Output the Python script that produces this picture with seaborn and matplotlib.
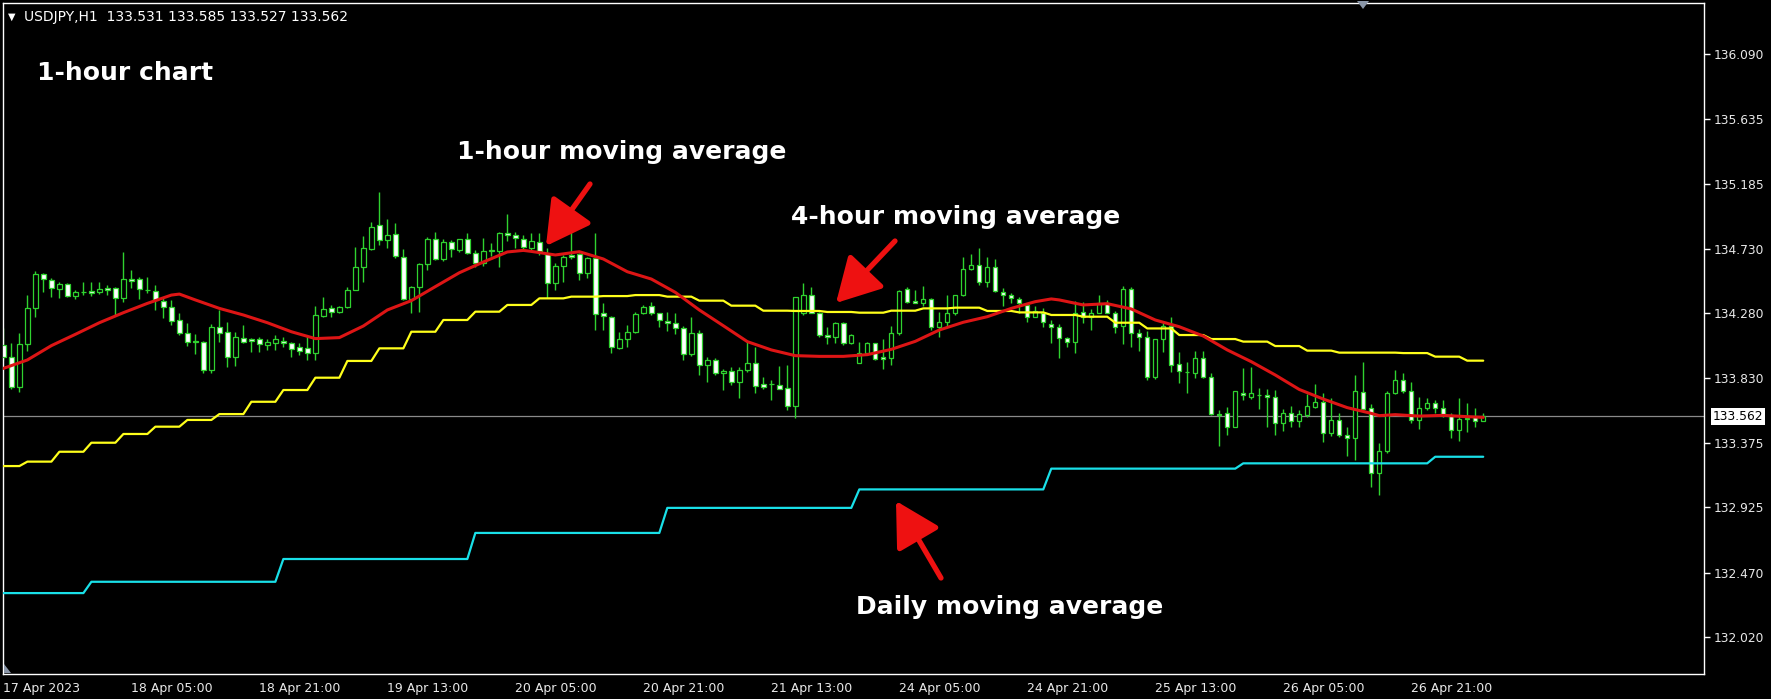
import numpy as np
import pandas as pd
import seaborn as sns
import matplotlib.pyplot as plt
from matplotlib.patches import Polygon

W, H = 1771, 699

# USDJPY H1 candles, first bar 17 Apr 13:00
opens = [134.059, 133.973, 133.768, 134.064, 134.315, 134.553, 134.513, 134.453, 134.483, 134.404,
         134.429, 134.436, 134.427, 134.455, 134.455, 134.385, 134.517, 134.520, 134.446, 134.439,
         134.369, 134.327, 134.234, 134.145, 134.085, 134.083, 133.885, 134.185, 134.148, 133.978,
         134.111, 134.099, 134.099, 134.059, 134.075, 134.087, 134.071, 134.048, 134.036, 134.006,
         134.262, 134.315, 134.292, 134.322, 134.443, 134.606, 134.730, 134.897, 134.792, 134.832,
         134.676, 134.378, 134.467, 134.625, 134.797, 134.657, 134.781, 134.723, 134.797, 134.699,
         134.630, 134.716, 134.718, 134.839, 134.827, 134.797, 134.739, 134.781, 134.695, 134.494,
         134.611, 134.690, 134.695, 134.560, 134.664, 134.281, 134.257, 134.041, 134.099, 134.148,
         134.281, 134.334, 134.281, 134.227, 134.211, 134.175, 133.996, 134.145, 133.920, 133.955,
         133.866, 133.878, 133.799, 133.885, 133.931, 133.787, 133.789, 133.780, 133.757, 133.633,
         134.285, 134.408, 134.285, 134.129, 134.118, 134.211, 134.071, 133.936, 134.006, 134.071,
         133.973, 133.966, 134.141, 134.448, 134.369, 134.355, 134.378, 134.183, 134.222, 134.285,
         134.408, 134.588, 134.618, 134.502, 134.602, 134.431, 134.408, 134.378, 134.339, 134.257,
         134.285, 134.206, 134.183, 134.106, 134.083, 134.290, 134.252, 134.285, 134.350, 134.285,
         134.192, 134.448, 134.145, 134.113, 133.834, 134.099, 134.192, 133.924, 133.871, 133.866,
         133.966, 133.834, 133.575, 133.582, 133.489, 133.722, 133.699, 133.710, 133.708, 133.694,
         133.512, 133.582, 133.531, 133.571, 133.629, 133.659, 133.442, 133.536, 133.431, 133.407,
         133.734, 133.617, 133.163, 133.321, 133.722, 133.815, 133.740, 133.536, 133.622, 133.652,
         133.617, 133.571, 133.466, 133.540, 133.554, 133.531]
highs = [134.175, 134.075, 134.145, 134.408, 134.576, 134.560, 134.529, 134.502, 134.490, 134.443,
         134.497, 134.502, 134.502, 134.478, 134.462, 134.711, 134.583, 134.536, 134.532, 134.476,
         134.397, 134.374, 134.281, 134.215, 134.136, 134.090, 134.204, 134.304, 134.218, 134.152,
         134.199, 134.106, 134.118, 134.099, 134.129, 134.113, 134.083, 134.071, 134.122, 134.332,
         134.392, 134.339, 134.332, 134.462, 134.746, 134.820, 134.920, 135.130, 134.937, 134.913,
         134.727, 134.471, 134.630, 134.816, 134.851, 134.797, 134.792, 134.797, 134.839, 134.723,
         134.804, 134.769, 134.851, 134.974, 134.851, 134.827, 134.839, 134.844, 134.734, 134.630,
         134.688, 134.867, 134.704, 134.676, 134.839, 134.355, 134.262, 134.152, 134.199, 134.292,
         134.339, 134.357, 134.285, 134.292, 134.285, 134.194, 134.257, 134.164, 133.978, 133.966,
         133.889, 133.908, 133.908, 134.083, 134.048, 133.838, 133.815, 133.913, 133.920, 134.397,
         134.490, 134.462, 134.290, 134.187, 134.222, 134.222, 134.136, 134.083, 134.083, 134.075,
         134.099, 134.192, 134.443, 134.462, 134.443, 134.471, 134.385, 134.292, 134.408, 134.410,
         134.671, 134.695, 134.734, 134.671, 134.657, 134.455, 134.420, 134.392, 134.350, 134.332,
         134.315, 134.234, 134.206, 134.118, 134.369, 134.362, 134.308, 134.408, 134.374, 134.299,
         134.471, 134.462, 134.169, 134.159, 134.103, 134.211, 134.257, 134.013, 133.943, 134.020,
         134.020, 133.866, 133.605, 133.629, 133.740, 133.896, 133.903, 133.757, 133.750, 133.745,
         133.610, 133.633, 133.605, 133.717, 133.787, 133.722, 133.687, 133.582, 133.489, 133.850,
         133.943, 133.647, 133.373, 133.740, 133.885, 133.866, 133.803, 133.699, 133.687, 133.675,
         133.675, 133.582, 133.687, 133.657, 133.617, 133.585]
lows = [133.955, 133.749, 133.733, 134.020, 134.252, 134.431, 134.397, 134.385, 134.392, 134.381,
        134.408, 134.404, 134.415, 134.406, 134.269, 134.362, 134.455, 134.378, 134.420, 134.304,
        134.246, 134.199, 134.129, 134.055, 133.996, 133.862, 133.862, 134.083, 133.908, 133.913,
        134.075, 134.013, 134.013, 134.025, 134.025, 134.048, 133.978, 133.990, 133.955, 133.955,
        134.257, 134.257, 134.281, 134.315, 134.440, 134.502, 134.723, 134.757, 134.734, 134.664,
        134.374, 134.285, 134.292, 134.583, 134.653, 134.648, 134.676, 134.711, 134.695, 134.602,
        134.611, 134.681, 134.606, 134.788, 134.734, 134.727, 134.723, 134.688, 134.385, 134.443,
        134.502, 134.657, 134.513, 134.525, 134.164, 134.164, 134.006, 134.029, 134.048, 134.145,
        134.276, 134.269, 134.183, 134.159, 134.136, 133.955, 133.982, 133.850, 133.803, 133.850,
        133.745, 133.780, 133.687, 133.873, 133.722, 133.750, 133.675, 133.750, 133.605, 133.547,
        134.269, 134.281, 134.118, 134.066, 134.071, 134.059, 134.066, 133.931, 133.990, 133.955,
        133.889, 133.920, 134.129, 134.355, 134.350, 134.332, 134.164, 134.118, 134.187, 134.269,
        134.401, 134.583, 134.478, 134.462, 134.431, 134.332, 134.350, 134.281, 134.222, 134.252,
        134.187, 134.075, 133.966, 134.048, 134.001, 134.215, 134.164, 134.281, 134.281, 134.145,
        134.066, 134.048, 134.020, 133.815, 133.820, 134.013, 133.873, 133.792, 133.722, 133.827,
        133.827, 133.570, 133.354, 133.431, 133.484, 133.675, 133.680, 133.610, 133.484, 133.431,
        133.461, 133.489, 133.489, 133.559, 133.617, 133.384, 133.424, 133.414, 133.284, 133.256,
        133.601, 133.070, 133.012, 133.303, 133.717, 133.722, 133.517, 133.470, 133.605, 133.582,
        133.554, 133.407, 133.391, 133.454, 133.489, 133.527]
closes = [133.978, 133.768, 134.064, 134.315, 134.553, 134.517, 134.455, 134.483, 134.404, 134.427,
          134.427, 134.420, 134.450, 134.443, 134.385, 134.517, 134.508, 134.448, 134.441, 134.374,
          134.322, 134.229, 134.145, 134.083, 134.080, 133.885, 134.187, 134.145, 133.978, 134.113,
          134.083, 134.085, 134.066, 134.083, 134.099, 134.071, 134.029, 134.020, 134.006, 134.269,
          134.311, 134.292, 134.322, 134.443, 134.606, 134.734, 134.886, 134.792, 134.827, 134.681,
          134.378, 134.467, 134.625, 134.799, 134.657, 134.781, 134.727, 134.797, 134.699, 134.630,
          134.718, 134.720, 134.844, 134.827, 134.804, 134.746, 134.785, 134.718, 134.494, 134.611,
          134.671, 134.671, 134.564, 134.664, 134.276, 134.262, 134.048, 134.099, 134.152, 134.274,
          134.327, 134.285, 134.234, 134.215, 134.175, 133.996, 134.141, 133.920, 133.955, 133.862,
          133.878, 133.799, 133.885, 133.931, 133.773, 133.764, 133.785, 133.752, 133.633, 134.392,
          134.408, 134.285, 134.129, 134.118, 134.211, 134.071, 134.129, 134.001, 134.071, 133.959,
          133.959, 134.145, 134.439, 134.362, 134.355, 134.378, 134.183, 134.222, 134.285, 134.408,
          134.588, 134.618, 134.502, 134.602, 134.436, 134.408, 134.385, 134.355, 134.257, 134.299,
          134.222, 134.183, 134.106, 134.083, 134.285, 134.252, 134.285, 134.350, 134.285, 134.187,
          134.448, 134.145, 134.113, 133.838, 134.099, 134.192, 133.920, 133.880, 133.869, 133.966,
          133.834, 133.575, 133.573, 133.489, 133.738, 133.708, 133.722, 133.708, 133.694, 133.512,
          133.582, 133.531, 133.575, 133.633, 133.659, 133.442, 133.536, 133.431, 133.407, 133.738,
          133.610, 133.163, 133.321, 133.722, 133.815, 133.740, 133.536, 133.622, 133.652, 133.617,
          133.571, 133.466, 133.540, 133.550, 133.531, 133.562]

# 1-hour moving average (red)
ma1_bars = [0, 3, 6, 9, 12, 15, 18, 21, 22, 24, 27, 30, 33, 36, 39, 42, 45, 48, 51, 54,
            57, 60, 63, 65, 66, 69, 72, 75, 78, 81, 84, 87, 90, 93, 96, 99, 102, 105, 108, 111,
            114, 117, 120, 123, 126, 129, 131, 132, 135, 138, 141, 144, 147, 150, 153, 156, 159, 162, 165, 168,
            171, 172, 174, 177, 180, 183, 185]
ma1_vals = [133.896, 133.955, 134.055, 134.134, 134.215, 134.285, 134.350, 134.408, 134.415, 134.374,
            134.315, 134.269, 134.215, 134.152, 134.104, 134.111, 134.192, 134.304, 134.369, 134.467,
            134.564, 134.639, 134.709, 134.720, 134.713, 134.688, 134.711, 134.660, 134.571, 134.520,
            134.427, 134.304, 134.194, 134.083, 134.025, 133.985, 133.980, 133.980, 133.992, 134.029,
            134.085, 134.164, 134.218, 134.257, 134.315, 134.362, 134.381, 134.374, 134.339, 134.348,
            134.311, 134.234, 134.187, 134.122, 134.025, 133.943, 133.850, 133.749, 133.682, 133.622,
            133.582, 133.566, 133.573, 133.563, 133.568, 133.559, 133.554]

# 4-hour moving average (yellow): one value per 4h block
ma4_vals = [133.214, 133.245, 133.314, 133.377, 133.438, 133.489, 133.536, 133.577, 133.663, 133.745,
            133.831, 133.948, 134.036, 134.152, 134.234, 134.292, 134.339, 134.385, 134.397, 134.401,
            134.408, 134.397, 134.369, 134.334, 134.299, 134.297, 134.290, 134.285, 134.299, 134.315,
            134.320, 134.297, 134.287, 134.269, 134.257, 134.215, 134.175, 134.129, 134.101, 134.083,
            134.052, 134.020, 134.006, 134.006, 134.003, 133.978, 133.950]
ma4_lens = [3] + [4] * 45 + [3]

# daily moving average (cyan): one value per trading day
ma24_vals = [132.327, 132.406, 132.565, 132.747, 132.922, 133.051, 133.196, 133.233, 133.279]
ma24_lens = [11, 24, 24, 24, 24, 24, 24, 24, 7]

tick_bars = list(range(0, 177, 16))
tick_labels = ['17 Apr 2023', '18 Apr 05:00', '18 Apr 21:00', '19 Apr 13:00', '20 Apr 05:00',
               '20 Apr 21:00', '21 Apr 13:00', '24 Apr 05:00', '24 Apr 21:00', '25 Apr 13:00',
               '26 Apr 05:00', '26 Apr 21:00']
price_ticks = [136.090, 135.635, 135.185, 134.730, 134.280, 133.830, 133.375, 132.925, 132.470, 132.020]
last_price = 133.562

df = pd.DataFrame({'open': opens, 'high': highs, 'low': lows, 'close': closes})
df['bar'] = np.arange(len(df))
df['ma4'] = np.repeat(ma4_vals, ma4_lens)
df['ma24'] = np.repeat(ma24_vals, ma24_lens)
ma1 = pd.DataFrame({'bar': ma1_bars, 'ma1': ma1_vals})

sns.set_theme(style='dark', rc={'axes.facecolor': 'black', 'figure.facecolor': 'black',
                                'axes.edgecolor': 'white', 'text.color': 'white',
                                'xtick.color': 'white', 'ytick.color': 'white'})
plt.rcParams['font.family'] = ['DejaVu Sans']

fig = plt.figure(figsize=(W / 100, H / 100), dpi=100)
ax = fig.add_axes([3 / W, 25 / H, 1701 / W, 671 / H])
ax.grid(False)

green = '#2fd22f'
ax.axhline(last_price, color='#8a8a8a', lw=0.9, zorder=1)

up = df['close'] >= df['open']
lo = np.minimum(df['open'], df['close'])
hgt = np.maximum((df['close'] - df['open']).abs(), 0.003)
ax.vlines(df['bar'], df['low'], df['high'], color=green, lw=1.0, zorder=2)
ax.bar(df['bar'], hgt, bottom=lo, width=0.55, color=np.where(up, 'black', 'white'),
       edgecolor=green, linewidth=0.9, zorder=3)

sns.lineplot(data=df, x='bar', y='ma24', color='#19e0e8', lw=1.6, ax=ax, estimator=None, zorder=4)
sns.lineplot(data=df, x='bar', y='ma4', color='#ffff1a', lw=1.6, ax=ax, estimator=None, zorder=4)
sns.lineplot(data=ma1, x='bar', y='ma1', color='#dd1515', lw=2.2, ax=ax, estimator=None, zorder=5)

ax.set_xlim(-0.05, 212.6)
ax.set_ylim(131.762, 136.4475)
ax.set_xlabel('')
ax.set_ylabel('')

ax.set_xticks(tick_bars)
ax.set_xticklabels(tick_labels, ha='left')
ax.tick_params(axis='x', length=4, width=1, colors='white', labelcolor='#e8e8e8', labelsize=9, pad=2)
ax.yaxis.tick_right()
ax.set_yticks(price_ticks)
ax.set_yticklabels([f'{v:.3f}' for v in price_ticks])
ax.tick_params(axis='y', length=4, width=1, colors='white', labelcolor='#e8e8e8', labelsize=8.8, pad=3)
for s in ax.spines.values():
    s.set_color('white')
    s.set_linewidth(1)

ax.annotate(f'{last_price:.3f}', xy=(1, last_price), xycoords=('axes fraction', 'data'),
            xytext=(6, 0), textcoords='offset points', ha='left', va='center', fontsize=8.8,
            color='black', bbox=dict(boxstyle='square,pad=0.15', fc='white', ec='none'),
            annotation_clip=False)

# header line
fig.text(8 / W, 1 - 17 / H, '\u25bc', fontsize=7, color='white', va='center')
fig.text(24 / W, 1 - 17 / H, 'USDJPY,H1  133.531 133.585 133.527 133.562',
         fontsize=10, color='white', va='center')
fig.patches.append(Polygon([(1357 / W, 1 - 1 / H), (1369 / W, 1 - 1 / H), (1363 / W, 1 - 9 / H)],
                           closed=True, transform=fig.transFigure, fc='#8a96a8', ec='none'))
fig.patches.append(Polygon([(4 / W, 1 - 664 / H), (4 / W, 1 - 673 / H), (11 / W, 1 - 673 / H)],
                           closed=True, transform=fig.transFigure, fc='#8a96a8', ec='none'))

# annotations
txt = dict(color='white', fontsize=18, fontweight='bold', family=['DejaVu Sans'],
           va='center', ha='left')
fig.text(37 / W, 1 - 73 / H, '1-hour chart', **txt)
fig.text(457 / W, 1 - 152 / H, '1-hour moving average', **txt)
fig.text(791 / W, 1 - 217 / H, '4-hour moving average', **txt)
fig.text(856 / W, 1 - 607 / H, 'Daily moving average', **txt)

arrows = [((590, 184), (546, 246)), ((895, 241), (836, 303)), ((941, 578), (896, 501))]
for (x0, y0), (x1, y1) in arrows:
    ax.annotate('', xy=(x1, H - y1), xycoords='figure pixels', xytext=(x0, H - y0),
                textcoords='figure pixels',
                arrowprops=dict(arrowstyle='-|>,head_length=0.9,head_width=0.5', color='#ee1111',
                                lw=3.8, mutation_scale=30, shrinkA=0, shrinkB=0))

fig.savefig('out.png', dpi=100, facecolor='black')
